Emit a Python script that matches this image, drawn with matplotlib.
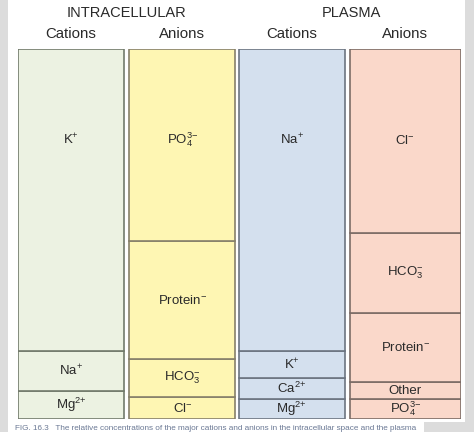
import matplotlib.pyplot as plt
from matplotlib.patches import Rectangle

plt.rcParams['font.family'] = ['Liberation Sans', 'DejaVu Sans']
plt.rcParams['mathtext.fontset'] = 'custom'
plt.rcParams['mathtext.rm'] = 'Liberation Sans'
plt.rcParams['mathtext.default'] = 'regular'

# data (relative concentrations), bottom -> top
groups = ['INTRACELLULAR', 'PLASMA']
columns = ['Cations', 'Anions', 'Cations', 'Anions']

ic_cation_labels = ['Mg$^{2{+}}$', 'Na$^{+}$', 'K$^{+}$']
ic_cation_values = [14, 20, 151]

ic_anion_labels = ['Cl$^{-}$', 'HCO$_3^{-}$', 'Protein$^{-}$', 'PO$_4^{3{-}}$']
ic_anion_values = [11, 19, 59, 96]

pl_cation_labels = ['Mg$^{2{+}}$', 'Ca$^{2{+}}$', 'K$^{+}$', 'Na$^{+}$']
pl_cation_values = [10, 10.5, 13.5, 151]

pl_anion_labels = ['PO$_4^{3{-}}$', 'Other', 'Protein$^{-}$', 'HCO$_3^{-}$', 'Cl$^{-}$']
pl_anion_values = [10, 8.5, 34.5, 40, 92]

caption = ('FIG. 16.3   The relative concentrations of the major cations and anions '
           'in the intracellular space and the plasma')

stacks = [
    (ic_cation_labels, ic_cation_values),
    (ic_anion_labels, ic_anion_values),
    (pl_cation_labels, pl_cation_values),
    (pl_anion_labels, pl_anion_values),
]
fills = ['#ecf2e2', '#fef6b3', '#d4e0ee', '#fad8ca']
edges = ['#727a6c', '#86806a', '#6c7480', '#7c6c66']
xpos = [0, 1, 1.98, 3]
widths = [0.95, 0.95, 0.95, 1.0]
txt = '#2a2a2a'

fig = plt.figure(figsize=(4.74, 4.32), dpi=100, facecolor='#dcdcdc')
W, H = 474, 432

# white page behind the figure
fig.patches.append(Rectangle((8 / W, 10 / H), 457 / W, 422 / H,
                             transform=fig.transFigure, fc='white', ec='none', zorder=-2))
fig.patches.append(Rectangle((8 / W, 0), 416 / W, 10 / H,
                             transform=fig.transFigure, fc='white', ec='none', zorder=-2))

ax = fig.add_axes([18 / W, (H - 419) / H, 443 / W, 370 / H])
ax.set_xlim(-0.475, 3.5)
ax.set_ylim(0, 185)
ax.axis('off')

for i, (labels, values) in enumerate(stacks):
    bottom = 0
    for j, (lab, v) in enumerate(zip(labels, values)):
        ax.bar(xpos[i], v, width=widths[i], bottom=bottom, color=fills[i],
               edgecolor=edges[i], linewidth=1.2)
        if j == len(values) - 1:
            ty = bottom + v - 45.5
        else:
            ty = bottom + v / 2
        ax.text(xpos[i], ty, lab, ha='center', va='center', fontsize=9.5, color=txt)
        bottom += v

# column and group headers
for i, c in enumerate(columns):
    ax.text(xpos[i], 192.5, c, ha='center', va='center', fontsize=10.8, color=txt,
            clip_on=False)
ax.text((xpos[0] + xpos[1]) / 2, 203, groups[0], ha='center', va='center',
        fontsize=10.5, color=txt, clip_on=False)
ax.text((xpos[2] + xpos[3]) / 2 + 0.03, 203, groups[1], ha='center', va='center',
        fontsize=10.5, color=txt, clip_on=False)

fig.text(15 / W, 0, caption, ha='left', va='bottom', fontsize=5.9,
         color='#6a7894')

plt.savefig('out.png', dpi=100, facecolor=fig.get_facecolor())
